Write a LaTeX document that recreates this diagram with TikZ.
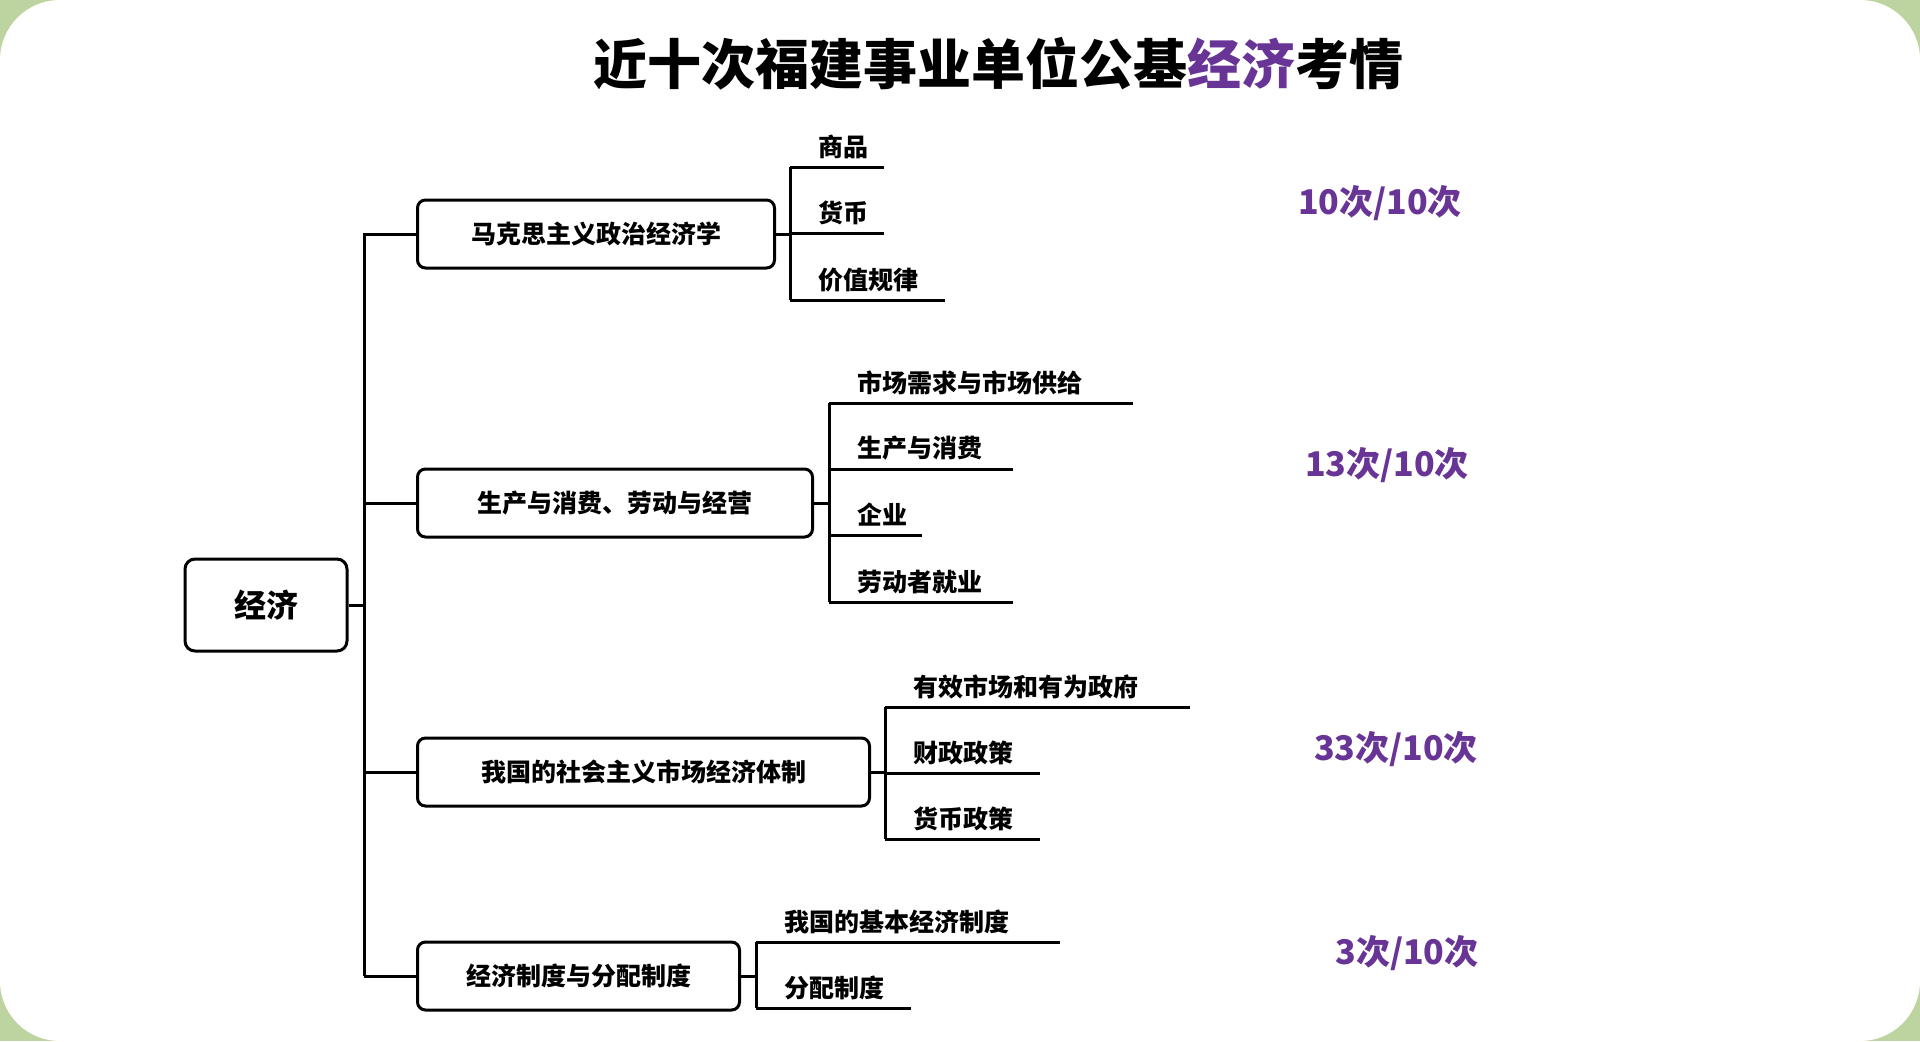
\documentclass[tikz,border=0pt]{standalone}
\usepackage{fontspec}
\setmainfont{Noto Sans CJK SC}
\definecolor{pur}{RGB}{104,52,150}
\definecolor{bggreen}{RGB}{190,212,160}
\tikzset{
  box/.style={draw,line width=1.5pt,rounded corners=4pt,anchor=west,minimum height=34pt,inner xsep=10pt,font=\fontsize{12.5}{14}\selectfont\bfseries},
  leaf/.style={anchor=south west,inner sep=0pt,font=\fontsize{12.5}{14}\selectfont\bfseries},
  ln/.style={line width=1.5pt},
  cnt/.style={text=pur,font=\fontsize{17}{19}\selectfont\bfseries}
}
\begin{document}
\begin{tikzpicture}[x=0.5pt,y=-0.5pt]
\fill[bggreen] (0,0) rectangle (1920,1041);
\fill[white,rounded corners=30pt] (0,0) rectangle (1920,1041);
\useasboundingbox (0,0) rectangle (1920,1041);
\node (title) at (998,64) {\fontsize{27}{30}\selectfont\bfseries 近十次福建事业单位公基\textcolor{pur}{经济}考情};
% root
\node[draw,line width=1.5pt,rounded corners=5pt,minimum width=81pt,minimum height=46pt,font=\fontsize{16}{18}\selectfont\bfseries] (root) at (266,605) {经济};
\coordinate (tt) at (364,233);
\coordinate (tb) at (364,976);
\coordinate (tm) at (364,605);
\draw[ln] (root.east) -- (tm);
\draw[ln] (tt) -- (tb);
% level 1
\node[box,minimum width=178.5pt] (a) at (416,234) {马克思主义政治经济学};
\node[box,minimum width=197.5pt] (b) at (416,503) {生产与消费、劳动与经营};
\node[box,minimum width=226pt] (c) at (416,772) {我国的社会主义市场经济体制};
\node[box,minimum width=161pt] (d) at (416,976) {经济制度与分配制度};
\foreach \n/\y in {a/234,b/503,c/772,d/976} \draw[ln] (364,\y) -- (\n.west);
% group a
\coordinate (av1) at (790,167); \coordinate (av2) at (790,300);
\draw[ln] (a.east) -- (790,234); \draw[ln] (av1) -- (av2);
\node[leaf] (a1) at (818,159) {商品};
\node[leaf] (a2) at (818,225) {货币};
\node[leaf] (a3) at (818,292) {价值规律};
\draw[ln] (av1) -- (884,167); \draw[ln] (790,233) -- (884,233); \draw[ln] (av2) -- (945,300);
% group b
\coordinate (bv1) at (829,403); \coordinate (bv2) at (829,602);
\draw[ln] (b.east) -- (829,503); \draw[ln] (bv1) -- (bv2);
\node[leaf] (b1) at (857,395) {市场需求与市场供给};
\node[leaf] (b2) at (857,461) {生产与消费};
\node[leaf] (b3) at (857,527) {企业};
\node[leaf] (b4) at (857,594) {劳动者就业};
\draw[ln] (bv1) -- (1133,403); \draw[ln] (829,469) -- (1013,469); \draw[ln] (829,535) -- (922,535); \draw[ln] (bv2) -- (1013,602);
% group c
\coordinate (cv1) at (885,707); \coordinate (cv2) at (885,839);
\draw[ln] (c.east) -- (885,772); \draw[ln] (cv1) -- (cv2);
\node[leaf] (c1) at (913,699) {有效市场和有为政府};
\node[leaf] (c2) at (913,765) {财政政策};
\node[leaf] (c3) at (913,831) {货币政策};
\draw[ln] (cv1) -- (1190,707); \draw[ln] (885,773) -- (1040,773); \draw[ln] (cv2) -- (1040,839);
% group d
\coordinate (dv1) at (756,942); \coordinate (dv2) at (756,1008);
\draw[ln] (d.east) -- (756,976); \draw[ln] (dv1) -- (dv2);
\node[leaf] (d1) at (784,934) {我国的基本经济制度};
\node[leaf] (d2) at (784,1000) {分配制度};
\draw[ln] (dv1) -- (1060,942); \draw[ln] (dv2) -- (911,1008);
% counts
\node[cnt] (n1) at (1380,203) {10次/10次};
\node[cnt] (n2) at (1387,465) {13次/10次};
\node[cnt] (n3) at (1396,749) {33次/10次};
\node[cnt] (n4) at (1407,953) {3次/10次};
\end{tikzpicture}
\end{document}
